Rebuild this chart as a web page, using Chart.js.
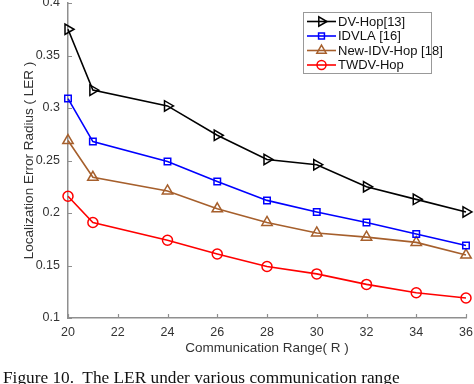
<!DOCTYPE html>
<html>
<head>
<meta charset="utf-8">
<script src="https://cdn.jsdelivr.net/npm/chart.js@4/dist/chart.umd.min.js"></script>
<style>
  html, body { margin: 0; padding: 0; background: #fff; }
  #wrap { position: relative; width: 474px; height: 384px; overflow: hidden; }
  #chart { position: absolute; left: 0; top: 0; }
  #caption {
    position: absolute; left: 3px; top: 369px;
    font-family: "Liberation Serif", "Times New Roman", serif;
    font-size: 17.3px; line-height: 18px; color: #111;
    white-space: pre;
  }
</style>
</head>
<body>
<div id="wrap">
  <canvas id="chart" width="474" height="384"></canvas>
  <div id="caption">Figure 10.  The LER under various communication range</div>
</div>
<script>
const xValues = [20, 21, 24, 26, 28, 30, 32, 34, 36];
const xTicks = [20, 22, 24, 26, 28, 30, 32, 34, 36];
const yTicks = [0.1, 0.15, 0.2, 0.25, 0.3, 0.35, 0.4];

const dvHop     = [0.375, 0.317, 0.302, 0.274, 0.251, 0.246, 0.225, 0.213, 0.201];
const idvla     = [0.309, 0.268, 0.249, 0.230, 0.212, 0.201, 0.191, 0.180, 0.169];
const newIdvHop = [0.269, 0.234, 0.221, 0.204, 0.191, 0.181, 0.177, 0.172, 0.160];
const twdvHop   = [0.216, 0.191, 0.174, 0.161, 0.149, 0.142, 0.132, 0.124, 0.119];

const seriesLabels = ['DV-Hop[13]', 'IDVLA [16]', 'New-IDV-Hop [18]', 'TWDV-Hop'];

const axisGray = '#8f8f8f';
const textGray = '#333';
const font = 'Liberation Sans, Arial, sans-serif';

function makeSet(label, values, color, style, radius, rotation) {
  return {
    label: label,
    data: values.map((v, i) => ({ x: xValues[i], y: v })),
    borderColor: color,
    backgroundColor: color,
    borderWidth: 1.6,
    pointStyle: style,
    pointRadius: radius,
    pointRotation: rotation || 0,
    pointBorderColor: color,
    pointBackgroundColor: 'rgba(0,0,0,0)',
    pointBorderWidth: 1.5,
    tension: 0,
    fill: false,
    clip: false
  };
}

const datasets = [
  makeSet(seriesLabels[0], dvHop, '#000000', 'triangle', 6, 90),
  makeSet(seriesLabels[1], idvla, '#0000ff', 'rect', 4.6),
  makeSet(seriesLabels[2], newIdvHop, '#a65f2c', 'triangle', 6),
  makeSet(seriesLabels[3], twdvHop, '#ff0000', 'circle', 5)
];

// matlab style inward ticks
const innerTicks = {
  id: 'innerTicks',
  afterDraw(chart) {
    const ctx = chart.ctx;
    const area = chart.chartArea;
    const xs = chart.scales.x, ys = chart.scales.y;
    ctx.save();
    ctx.strokeStyle = axisGray;
    ctx.lineWidth = 1.2;
    ctx.beginPath();
    xTicks.forEach(v => {
      const px = Math.round(xs.getPixelForValue(v)) + 0.5;
      ctx.moveTo(px, area.bottom);
      ctx.lineTo(px, area.bottom - 4);
    });
    yTicks.forEach(v => {
      const py = Math.round(ys.getPixelForValue(v)) + 0.5;
      ctx.moveTo(area.left, py);
      ctx.lineTo(area.left + 4, py);
    });
    ctx.stroke();
    ctx.restore();
  }
};

// legend box with line + marker samples
const boxLegend = {
  id: 'boxLegend',
  afterDraw(chart) {
    const ctx = chart.ctx;
    const left = 303, top = 12, w = 128, h = 61;
    ctx.save();
    ctx.fillStyle = '#fff';
    ctx.fillRect(left, top, w, h);
    ctx.strokeStyle = '#999';
    ctx.lineWidth = 1;
    ctx.strokeRect(left + 0.5, top + 0.5, w, h);
    chart.data.datasets.forEach((ds, i) => {
      const y = top + 9.5 + i * 14.5;
      ctx.strokeStyle = ds.borderColor;
      ctx.lineWidth = 1.6;
      ctx.beginPath();
      ctx.moveTo(307, y);
      ctx.lineTo(336, y);
      ctx.stroke();
      ctx.fillStyle = 'rgba(0,0,0,0)';
      ctx.lineWidth = 1.5;
      Chart.helpers.drawPoint(ctx, {
        pointStyle: ds.pointStyle,
        radius: ds.pointRadius * 0.9,
        rotation: ds.pointRotation,
        borderWidth: 1.5
      }, 321.5, y);
      ctx.fillStyle = '#111';
      ctx.font = '13px ' + font;
      ctx.textBaseline = 'middle';
      ctx.textAlign = 'left';
      ctx.fillText(ds.label, 338, y + 0.5);
    });
    ctx.restore();
  }
};

new Chart(document.getElementById('chart'), {
  type: 'line',
  data: { datasets: datasets },
  plugins: [innerTicks, boxLegend],
  options: {
    responsive: false,
    animation: false,
    layout: { autoPadding: false, padding: { left: 0, right: 8, top: 3, bottom: 0 } },
    plugins: {
      legend: { display: false },
      tooltip: { enabled: false }
    },
    scales: {
      x: {
        type: 'linear',
        min: 20,
        max: 36,
        afterBuildTicks: scale => { scale.ticks = xTicks.map(v => ({ value: v })); },
        afterFit: scale => { scale.height = 66; scale.paddingLeft = 0; scale.paddingRight = 0; },
        ticks: {
          color: textGray,
          font: { family: font, size: 12.5 },
          padding: 7,
          maxRotation: 0,
          autoSkip: false,
          callback: v => String(v)
        },
        grid: { display: false, drawTicks: false },
        border: { display: true, color: axisGray, width: 1.5 },
        title: {
          display: true,
          text: 'Communication Range( R )',
          color: textGray,
          font: { family: font, size: 13.5 },
          padding: { top: 0, bottom: 28 }
        }
      },
      y: {
        type: 'linear',
        min: 0.1,
        max: 0.4,
        afterBuildTicks: scale => { scale.ticks = yTicks.map(v => ({ value: v })); },
        afterFit: scale => { scale.width = 68; scale.paddingTop = 0; scale.paddingBottom = 0; },
        ticks: {
          color: textGray,
          font: { family: font, size: 12.5 },
          padding: 8,
          autoSkip: false,
          callback: v => String(Math.round(v * 100) / 100)
        },
        grid: { display: false, drawTicks: false },
        border: { display: true, color: axisGray, width: 1.5 },
        title: {
          display: true,
          text: 'Localization Error Radius ( LER )',
          color: textGray,
          font: { family: font, size: 13.5 },
          padding: { top: 21, bottom: 0 }
        }
      }
    }
  }
});
</script>
</body>
</html>
